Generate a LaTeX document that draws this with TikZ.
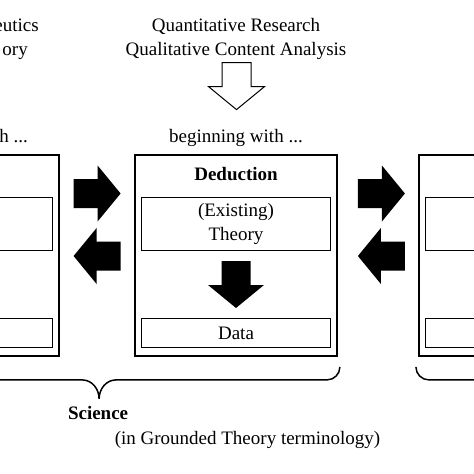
\documentclass[tikz,border=0pt]{standalone}
\usepackage{fontspec}
\setmainfont{Liberation Serif}
\usetikzlibrary{positioning, calc}
\tikzset{
  outerbox/.style={rectangle, draw=black, line width=1.8pt, minimum width=202pt, minimum height=201pt, inner sep=0pt},
  innerbox/.style={rectangle, draw=black, line width=1pt, minimum width=189pt, inner sep=2pt, align=center},
  title/.style={font=\fontsize{19}{24}\selectfont\bfseries, inner sep=0pt},
  bracepen/.style={line width=1.5pt},
  fatarrow/.pic={\path[pic actions] (-23.5,-14.5) -- (0.5,-14.5) -- (0.5,-28) -- (23.5,0) -- (0.5,28) -- (0.5,14.5) -- (-23.5,14.5) -- cycle;}
}
\begin{document}
\begin{tikzpicture}[x=1pt, y=-1pt, every node/.style={font=\fontsize{19}{24}\selectfont}]
    \useasboundingbox (0,0) rectangle (474,474);
    \clip (0,0) rectangle (474,474);

        % the three boxes
        \node (ded) [outerbox] at (236,255.5) {};
        \node (leftbox) [outerbox, left=74pt of ded] {};
        \node (rightbox) [outerbox, right=80pt of ded] {};

        % inner boxes
        \node (dedtheory) [innerbox, minimum height=53pt, below=43pt of ded.north] {(Existing)\\Theory};
        \node (deddata) [innerbox, minimum height=29pt, above=9pt of ded.south] {Data};
        \node (lefttop) [innerbox, minimum height=53pt, below=43pt of leftbox.north] {};
        \node (leftbot) [innerbox, minimum height=29pt, above=9pt of leftbox.south] {};
        \node (righttop) [innerbox, minimum height=53pt, below=43pt of rightbox.north] {};
        \node (rightbot) [innerbox, minimum height=29pt, above=9pt of rightbox.south] {};
        \node (dedtitle) [title, below=13pt of ded.north] {Deduction};

        % texts above the boxes
        \node (methods) [align=center] at (236,39) {Quantitative Research\\Qualitative Content Analysis};
        \node (leftmeth1) [anchor=base east, inner sep=0pt] at (39,31) {eutics};
        \node (leftmeth2) [anchor=base east, inner sep=0pt] at (28,55) {ory};
        \node (begin) [anchor=base, inner sep=0pt] at (236,142) {beginning with ...};
        \node (leftbegin) [anchor=base east, inner sep=0pt] at (28,142) {h ...};

        % block arrows
        \pic [draw=black, fill=white, line width=1pt, rotate=-90] at ($(ded.north)+(0.5,-68)$) {fatarrow};
        \pic [fill=black, rotate=-90] at ($(dedtheory.south)!0.5!(deddata.north)$) {fatarrow};
        \pic [fill=black] at ($(leftbox.east)!0.5!(ded.west)+(0,-62)$) {fatarrow};
        \pic [fill=black, rotate=180] at ($(leftbox.east)!0.5!(ded.west)+(0,0.5)$) {fatarrow};
        \pic [fill=black] at ($(ded.east)!0.5!(rightbox.west)+(3.5,-62)$) {fatarrow};
        \pic [fill=black, rotate=180] at ($(ded.east)!0.5!(rightbox.west)+(3.5,0.5)$) {fatarrow};

        % braces below
        \coordinate (brA) at ($(leftbox.south west)+(2,10)$);
        \coordinate (brB) at ($(ded.south east)+(2,10)$);
        \coordinate (brC) at ($(rightbox.south west)+(-2,10)$);
        \coordinate (brD) at ($(rightbox.south east)+(2,10)$);
        \draw [bracepen] (brB) to[out=-90,in=0] ++(-13,13) -- ($(brA)!0.5!(brB)+(17,13)$) to[out=180,in=90] ++(-17,19) to[out=90,in=0] ++(-17,-19) -- ($(brA)+(13,13)$) to[out=180,in=-90] (brA);
        \draw [bracepen] (brD) to[out=-90,in=0] ++(-13,13) -- ($(brC)!0.5!(brD)+(17,13)$) to[out=180,in=90] ++(-17,19) to[out=90,in=0] ++(-17,-19) -- ($(brC)+(13,13)$) to[out=180,in=-90] (brC);

        \node (science) [title, anchor=base] at ($(brA)!0.5!(brB)+(-1,53)$) {Science};
        \node (gtterm) [anchor=base, inner sep=0pt] at (247.5,444) {(in Grounded Theory terminology)};

    \end{tikzpicture}
\end{document}
